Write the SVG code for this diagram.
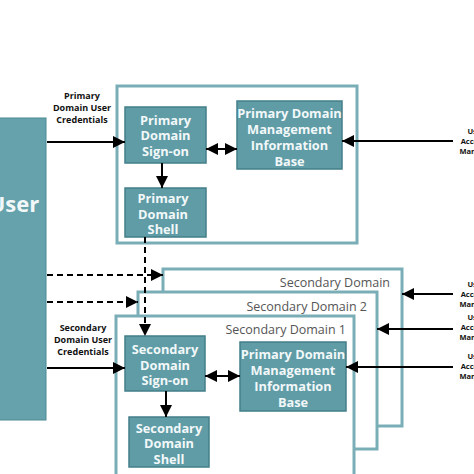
<svg xmlns="http://www.w3.org/2000/svg" width="474" height="474" viewBox="0 0 474 474">
<defs>
<style>
.dom{fill:#fff;stroke:#7aaeb7;stroke-width:3}
.box{fill:#5f9ca6;stroke:#437f89;stroke-width:1.5}
.bt{font-family:"Open Sans","Noto Sans",sans-serif;font-weight:bold;font-size:12.8px;fill:#f2f8f9;text-anchor:middle}
.dl{font-family:"Open Sans","Noto Sans",sans-serif;font-size:12.5px;fill:#555;text-anchor:end}
.lb{font-family:"Open Sans","Noto Sans",sans-serif;font-weight:bold;font-size:9px;fill:#111;text-anchor:middle}
.rl{font-family:"Open Sans","Noto Sans",sans-serif;font-weight:bold;font-size:7.5px;fill:#111;text-anchor:middle}
.ln{stroke:#000;stroke-width:2;fill:none}
.dash{stroke:#000;stroke-width:2;fill:none;stroke-dasharray:6,4}
</style>
<marker id="ah" viewBox="0 0 10 10" refX="10" refY="5" markerWidth="6" markerHeight="6" orient="auto-start-reverse" markerUnits="strokeWidth">
<path d="M0,0 L10,5 L0,10 z" fill="#000"/>
</marker>
</defs>

<g id="user">
<rect x="-20" y="118" width="66" height="302" fill="#66a2ab" stroke="#4d8a94" stroke-width="1"/>
<text x="14" y="212" font-family="Open Sans,Noto Sans,sans-serif" font-weight="bold" font-size="22" fill="#f2f8f9" text-anchor="middle">User</text>
</g>

<g id="primary-domain">
<rect class="dom" x="117" y="86" width="240" height="157"/>
</g>

<g id="secondary-domain">
<rect class="dom" x="163" y="269" width="239" height="157"/>
<text class="dl" x="390" y="287">Secondary Domain</text>
</g>
<g id="secondary-domain-2">
<rect class="dom" x="138" y="292" width="239" height="157"/>
<text class="dl" x="367" y="311">Secondary Domain 2</text>
</g>
<g id="secondary-domain-1">
<rect class="dom" x="116" y="316" width="238" height="160"/>
<text class="dl" x="346" y="334">Secondary Domain 1</text>
</g>

<g id="primary-signon">
<rect class="box" x="125" y="107" width="81" height="56"/>
<text class="bt" x="165.5" y="124.5">Primary</text>
<text class="bt" x="165.5" y="140">Domain</text>
<text class="bt" x="165.5" y="155.5">Sign-on</text>
</g>
<g id="primary-shell">
<rect class="box" x="125" y="188" width="81" height="49"/>
<text class="bt" x="163" y="203">Primary</text>
<text class="bt" x="163" y="218.5">Domain</text>
<text class="bt" x="163" y="234">Shell</text>
</g>
<g id="primary-mib">
<rect class="box" x="237" y="101" width="105" height="68"/>
<text class="bt" x="289.5" y="117.5">Primary Domain</text>
<text class="bt" x="289.5" y="134">Management</text>
<text class="bt" x="289.5" y="150">Information</text>
<text class="bt" x="289.5" y="166">Base</text>
</g>

<g id="secondary-signon">
<rect class="box" x="125" y="336" width="80" height="55"/>
<text class="bt" x="165" y="354">Secondary</text>
<text class="bt" x="165" y="369.5">Domain</text>
<text class="bt" x="165" y="385">Sign-on</text>
</g>
<g id="secondary-shell">
<rect class="box" x="129" y="417" width="80" height="50"/>
<text class="bt" x="169" y="432.5">Secondary</text>
<text class="bt" x="169" y="448">Domain</text>
<text class="bt" x="169" y="463.5">Shell</text>
</g>
<g id="secondary-mib">
<rect class="box" x="240" y="342" width="106" height="69"/>
<text class="bt" x="293" y="358.5">Primary Domain</text>
<text class="bt" x="293" y="375">Management</text>
<text class="bt" x="293" y="391">Information</text>
<text class="bt" x="293" y="407">Base</text>
</g>

<g id="labels">
<text class="lb" x="82" y="99">Primary</text>
<text class="lb" x="82" y="111">Domain User</text>
<text class="lb" x="82" y="123">Credentials</text>
<text class="lb" x="83" y="331">Secondary</text>
<text class="lb" x="83" y="343">Domain User</text>
<text class="lb" x="83" y="355">Credentials</text>
<text class="rl" x="476" y="134">User</text>
<text class="rl" x="476" y="144">Account</text>
<text class="rl" x="476" y="154">Manager</text>
<text class="rl" x="476" y="287">User</text>
<text class="rl" x="476" y="297">Account</text>
<text class="rl" x="476" y="307">Manager</text>
<text class="rl" x="476" y="320">User</text>
<text class="rl" x="476" y="330">Account</text>
<text class="rl" x="476" y="340">Manager</text>
<text class="rl" x="476" y="359">User</text>
<text class="rl" x="476" y="369">Account</text>
<text class="rl" x="476" y="379">Manager</text>
</g>

<g id="connectors">
<line class="ln" x1="47" y1="142" x2="125" y2="142" marker-end="url(#ah)"/>
<line class="ln" x1="206" y1="149" x2="237" y2="149" marker-start="url(#ah)" marker-end="url(#ah)"/>
<line class="ln" x1="162" y1="163" x2="162" y2="188" marker-end="url(#ah)"/>
<line class="ln" x1="453" y1="141" x2="342" y2="141" marker-end="url(#ah)"/>
<line class="dash" x1="145" y1="237" x2="145" y2="336" marker-end="url(#ah)"/>
<line class="dash" x1="47" y1="275" x2="163" y2="275" marker-end="url(#ah)"/>
<line class="dash" x1="47" y1="302" x2="138" y2="302" marker-end="url(#ah)"/>
<line class="ln" x1="47" y1="368" x2="125" y2="368" marker-end="url(#ah)"/>
<line class="ln" x1="205" y1="376" x2="240" y2="376" marker-start="url(#ah)" marker-end="url(#ah)"/>
<line class="ln" x1="166" y1="391" x2="166" y2="417" marker-end="url(#ah)"/>
<line class="ln" x1="453" y1="294" x2="402" y2="294" marker-end="url(#ah)"/>
<line class="ln" x1="453" y1="329" x2="377" y2="329" marker-end="url(#ah)"/>
<line class="ln" x1="453" y1="367" x2="346" y2="367" marker-end="url(#ah)"/>
</g>
</svg>
